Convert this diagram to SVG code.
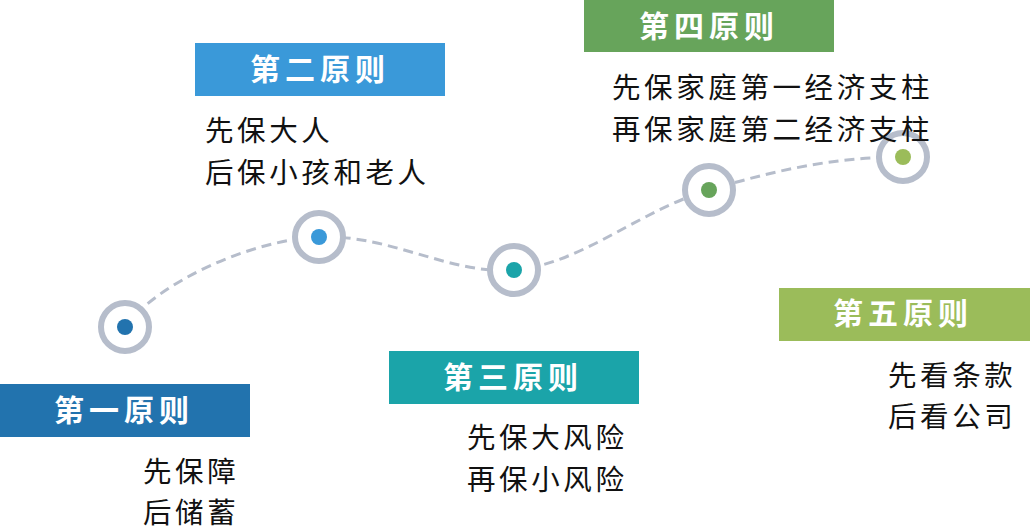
<svg xmlns="http://www.w3.org/2000/svg" width="1030" height="531" viewBox="0 0 1030 531">
<style>
.title{font-family:"Noto Sans CJK SC","Noto Sans",sans-serif;font-weight:bold;font-size:30px;fill:#fff;letter-spacing:5px}
.body{font-family:"Noto Sans CJK SC","Noto Sans",sans-serif;font-size:28.5px;fill:#111;letter-spacing:3.6px}
.ring{fill:#fff;stroke:#b6bdcb;stroke-width:6}
.conn{fill:none;stroke:#b6bdcb;stroke-width:3;stroke-dasharray:10 6}
</style>
<rect width="1030" height="531" fill="#fff"/>
<g id="connectors">
<path class="conn" d="M125,326 C160,282 250,240 319,237 C390,234 450,275 514,270 C580,265 640,210 709,190 C770,172 830,157 903,157"/>
</g>
<g id="node5">
<circle class="ring" cx="903" cy="157" r="24"/>
<circle cx="903" cy="157" r="8" fill="#9bbc5a"/>
<rect x="779" y="288" width="251" height="53" fill="#9bbc5a"/>
<text class="title" x="833" y="324">第五原则</text>
<text class="body" x="888" y="386">先看条款</text>
<text class="body" x="888" y="427">后看公司</text>
</g>
<g id="node1">
<circle class="ring" cx="125" cy="327" r="24"/>
<circle cx="125" cy="327" r="8" fill="#2273ae"/>
<rect x="0" y="384" width="250" height="53" fill="#2273ae"/>
<text class="title" x="54" y="421">第一原则</text>
<text class="body" x="143" y="482">先保障</text>
<text class="body" x="143" y="523">后储蓄</text>
</g>
<g id="node2">
<circle class="ring" cx="319" cy="237" r="24"/>
<circle cx="319" cy="237" r="8" fill="#3a99d9"/>
<rect x="195" y="43" width="250" height="53" fill="#3a99d9"/>
<text class="title" x="250" y="80">第二原则</text>
<text class="body" x="205" y="141">先保大人</text>
<text class="body" x="205" y="183">后保小孩和老人</text>
</g>
<g id="node3">
<circle class="ring" cx="514" cy="270" r="24"/>
<circle cx="514" cy="270" r="8" fill="#1ba4a9"/>
<rect x="389" y="351" width="250" height="53" fill="#1ba4a9"/>
<text class="title" x="443" y="388">第三原则</text>
<text class="body" x="467" y="448">先保大风险</text>
<text class="body" x="467" y="490">再保小风险</text>
</g>
<g id="node4">
<circle class="ring" cx="709" cy="190" r="24"/>
<circle cx="709" cy="190" r="8" fill="#67a45b"/>
<rect x="584" y="0" width="250" height="52" fill="#67a45b"/>
<text class="title" x="639" y="37">第四原则</text>
<text class="body" x="612" y="98">先保家庭第一经济支柱</text>
<text class="body" x="612" y="140">再保家庭第二经济支柱</text>
</g>
</svg>
